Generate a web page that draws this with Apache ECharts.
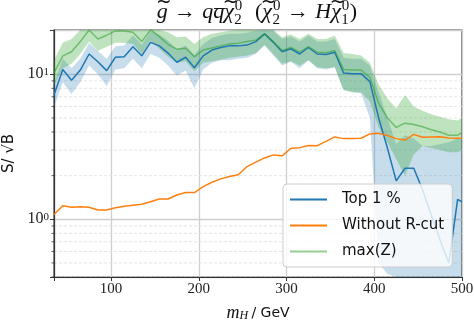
<!DOCTYPE html>
<html><head><meta charset="utf-8">
<script src="https://cdn.jsdelivr.net/npm/echarts@6/dist/echarts.min.js"></script>
<style>html,body{margin:0;padding:0;background:#fff}#c{width:474px;height:322px}</style>
</head><body><div id="c"></div>
<script>
// ---- data ----
const mH = [35,45,55,65,75,85,95,105,115,125,135,145,155,165,175,185,195,205,215,225,235,245,255,265,275,285,295,305,315,325,335,345,355,365,375,385,395,405,415,425,435,445,455,465,475,485,495,500];
const top1 = [7.2,10.8,9.1,10.7,13.8,12.2,10.6,13.1,13.2,15.5,13.4,16.6,15.7,14.0,12.1,13.1,11.1,13.4,14.7,15.3,15.7,15.7,15.9,16.8,19.0,16.6,14.3,15.0,13.8,15.3,13.8,13.7,14.2,10.2,10.1,10.1,8.9,5.0,3.1,1.84,2.25,2.25,1.6,1.07,0.72,0.50,1.37,1.32];
const top1Hi = [8.6,12.8,11.0,12.8,16.5,14.5,12.8,15.6,15.8,18.5,16.0,19.8,18.8,17.0,14.8,15.8,13.6,16.2,17.8,18.5,19.0,19.0,19.3,20.0,22.5,20.0,17.5,18.2,16.8,18.5,16.8,16.8,17.5,13.0,12.8,12.8,11.5,7.5,5.0,3.3,3.8,3.6,3.2,3.2,3.3,3.4,3.6,3.6];
const top1Lo = [5.9,8.8,7.3,8.8,11.5,10.0,8.3,10.8,11.0,12.8,11.0,13.8,13.0,11.5,9.8,10.6,8.0,10.8,12.0,12.5,12.5,12.8,13.0,13.8,15.8,13.5,11.5,12.2,11.0,12.5,11.0,10.8,11.2,7.8,7.6,7.4,5.0,0.5,0.42,0.3,0.3,0.3,0.3,0.3,0.3,0.3,0.3,0.3];
const noRcut = [1.08,1.24,1.21,1.22,1.21,1.16,1.16,1.20,1.23,1.25,1.27,1.32,1.38,1.38,1.47,1.53,1.53,1.68,1.80,1.90,1.97,2.03,2.31,2.48,2.65,2.78,2.74,3.09,3.12,3.23,3.22,3.45,3.70,3.60,3.60,3.62,3.88,3.92,3.78,3.60,3.52,3.85,3.68,3.70,3.71,3.64,3.62,3.62];
const maxZ = [10.2,13.4,14.3,16.8,20.2,17.5,18.6,19.9,19.9,19.5,16.8,20.3,18.2,16.1,14.9,15.1,13.2,14.7,15.2,15.7,16.2,16.4,16.8,17.2,19.0,16.8,14.6,15.3,14.2,15.5,14.2,14.1,14.6,10.8,10.7,10.7,9.5,6.3,5.0,4.3,4.6,4.5,4.35,4.15,4.0,3.8,3.8,3.95];
const maxZHi = [12.5,16.5,17.5,20.5,24,21,22,23.5,23.5,23,20.5,24,22,19.5,18.0,18.2,16.2,18.0,19.0,19.5,20.0,20.3,20.5,21.0,22.5,20.5,18.0,18.8,17.5,19.0,17.5,17.5,18.5,14.0,13.8,13.5,12.0,8.5,6.8,5.8,7.2,6.0,5.6,5.3,5.1,4.9,4.8,5.0];
const maxZLo = [8.4,11.0,11.8,13.8,16.8,14.5,15.5,16.5,16.5,16.2,13.8,17.0,15.0,13.2,12.0,12.3,10.5,12.0,12.3,12.6,13.0,13.2,13.5,14.0,16.0,13.8,11.8,12.3,11.5,12.5,11.2,11.0,11.2,7.8,7.5,7.5,6.5,4.3,3.4,2.6,2.0,2.8,3.2,3.1,3.0,2.9,2.9,3.0];
const xTickLabels = [100,200,300,400,500];
const yMinor = [0.4,0.5,0.6,0.7,0.8,0.9,2,3,4,5,6,7,8,9];
const seriesNames = ['Top 1 %','Without R-cut','max(Z)'];

const X_MIN = 35, X_MAX = 500, Y_MIN = 0.4, Y_MAX = 20.2;
const C_BLUE = '#1f77b4', C_ORANGE = '#ff7f0e', C_GREEN = '#2ca02c';

const pairs = arr => mH.map((x, i) => [x, arr[i]]);
const clampY = v => Math.min(Y_MAX, Math.max(Y_MIN, v));

function band(lo, hi, color, opacity, z) {
  return {
    type: 'custom', silent: true, z: z, data: [[X_MIN, 1]],
    renderItem(params, api) {
      const pts = [];
      for (let i = 0; i < mH.length; i++) pts.push(api.coord([mH[i], clampY(hi[i])]));
      for (let i = mH.length - 1; i >= 0; i--) pts.push(api.coord([mH[i], clampY(lo[i])]));
      return { type: 'polygon', shape: { points: pts }, style: { fill: color, opacity: opacity } };
    }
  };
}

const minorSeries = {
  type: 'custom', silent: true, z: 0, data: [[X_MIN, 1]],
  renderItem(params, api) {
    const children = [];
    yMinor.forEach(v => {
      const a = api.coord([X_MIN, v]), b = api.coord([X_MAX, v]);
      children.push({ type: 'line', shape: { x1: a[0], y1: a[1], x2: b[0], y2: b[1] },
        style: { stroke: '#dddddd', lineWidth: 0.8, lineDash: [3, 2] } });
      children.push({ type: 'line', shape: { x1: a[0] - 2.5, y1: a[1], x2: a[0], y2: a[1] },
        style: { stroke: '#333', lineWidth: 0.8 } });
    });
    return { type: 'group', children };
  }
};

// ---- title laid out as math text (g~ -> q qbar chi~^0_2 (chi~^0_2 -> H chi~^0_1)) ----
function buildTitle() {
  const F = 22, B = 20, CX = 257, SER = '"Liberation Serif"';
  const ctx = document.createElement('canvas').getContext('2d');
  const fnt = (it, s) => (it ? 'italic ' : '') + s + 'px ' + SER;
  const meas = (t, f) => { ctx.font = f; return ctx.measureText(t).width; };
  const segs = [
    { t: 'g', it: true, tilde: true }, { gap: 0.28 }, { t: '\u2192' }, { gap: 0.28 },
    { t: 'q', it: true }, { t: 'q', it: true, bar: true }, { t: '\u03c7', it: true, tilde: true }, { sup: '0', sub: '2' },
    { gap: 0.55 }, { t: '(' }, { t: '\u03c7', it: true, tilde: true }, { sup: '0', sub: '2' },
    { gap: 0.28 }, { t: '\u2192' }, { gap: 0.28 },
    { t: 'H', it: true }, { t: '\u03c7', it: true, tilde: true }, { sup: '0', sub: '1' }, { t: ')' }
  ];
  const S = Math.round(F * 0.68);
  let x = 0;
  const items = [];
  segs.forEach(s => {
    if (s.gap) { x += s.gap * F; return; }
    if (s.sup) {
      const w = Math.max(meas(s.sup, fnt(false, S)), meas(s.sub, fnt(false, S)));
      items.push({ text: s.sup, font: fnt(false, S), x: x + 1, y: B - 0.42 * F - 0.34 * S });
      items.push({ text: s.sub, font: fnt(false, S), x: x + 0.5, y: B + 0.22 * F - 0.34 * S });
      x += w + 1.5;
      return;
    }
    const f = fnt(s.it, F);
    const w = meas(s.t, f);
    items.push({ text: s.t, font: f, x: x, y: B - 0.34 * F });
    if (s.tilde) items.push({ text: '~', font: (0.85 * F) + 'px "DejaVu Sans"', x: x + w / 2 + 1.5, y: B - 0.78 * F, center: true });
    if (s.bar) items.push({ text: '\u00af', font: fnt(false, F), x: x + w / 2 + 1, y: B - 0.1 * F, center: true });
    x += w;
  });
  const x0 = CX - x / 2;
  return items.map(it => ({
    type: 'text', x: x0 + it.x, y: it.y, silent: true,
    style: { text: it.text, font: it.font, fill: '#111',
      align: it.center ? 'center' : 'left', textAlign: it.center ? 'center' : 'left',
      verticalAlign: 'middle', textVerticalAlign: 'middle' }
  }));
}

const chart = echarts.init(document.getElementById('c'), null, { renderer: 'canvas' });
chart.setOption({
  animation: false,
  backgroundColor: '#fff',
  graphic: buildTitle(),
  grid: { left: 54, right: 12, top: 30, bottom: 45, containLabel: false, outerBoundsMode: 'none',
    show: true, borderColor: '#333', borderWidth: 1.2, backgroundColor: 'transparent' },
  legend: {
    orient: 'vertical', left: 283, top: 184,
    data: [
      { name: seriesNames[0], itemStyle: { color: C_BLUE } },
      { name: seriesNames[1], itemStyle: { color: C_ORANGE } },
      { name: seriesNames[2], itemStyle: { color: C_GREEN, opacity: 0.5 } }
    ],
    icon: 'rect', itemWidth: 37, itemHeight: 2, itemGap: 11,
    padding: [8, 8, 8, 7],
    backgroundColor: 'rgba(255,255,255,0.8)', borderColor: '#cccccc', borderWidth: 1, borderRadius: 4,
    textStyle: { fontFamily: 'DejaVu Sans', fontSize: 15, color: '#111', padding: [0, 0, 0, 10] }
  },
  xAxis: {
    type: 'value', min: X_MIN, max: X_MAX,
    name: '{i|m}{s|H} {t|/ GeV}', nameLocation: 'middle', nameGap: 27,
    nameTextStyle: { rich: {
      i: { fontFamily: 'Liberation Serif', fontStyle: 'italic', fontSize: 18, color: '#111' },
      s: { fontFamily: 'Liberation Serif', fontStyle: 'italic', fontSize: 12, verticalAlign: 'bottom', color: '#111' },
      t: { fontFamily: 'DejaVu Sans', fontSize: 14, color: '#111' }
    } },
    axisLine: { show: true, lineStyle: { color: '#333', width: 1.2 } },
    axisTick: { show: true, length: 4, lineStyle: { color: '#333' } },
    axisLabel: { margin: 5, fontFamily: 'Liberation Serif', fontSize: 15, color: '#222',
      formatter: v => xTickLabels.indexOf(Math.round(v)) >= 0 && Math.abs(v - Math.round(v)) < 1e-6 ? String(Math.round(v)) : '' },
    splitLine: { show: true, lineStyle: { color: '#cfcfcf', width: 1.3 } }
  },
  yAxis: {
    type: 'log', logBase: 10, min: Y_MIN, max: Y_MAX,
    name: 'S/ \u221aB\u0305', nameLocation: 'middle', nameGap: 33, nameRotate: 90,
    nameTextStyle: { fontFamily: 'DejaVu Sans', fontSize: 15, color: '#111' },
    axisLine: { show: true, lineStyle: { color: '#333', width: 1.2 } },
    axisTick: { show: true, length: 4, lineStyle: { color: '#333' } },
    axisLabel: { margin: 5, fontFamily: 'Liberation Serif', fontSize: 16, color: '#222',
      formatter: v => {
        const l = Math.log10(v), r = Math.round(l);
        return Math.abs(l - r) < 1e-6 ? '10{sp|' + r + '}' : '';
      },
      rich: { sp: { fontFamily: 'Liberation Serif', fontSize: 11, verticalAlign: 'top', color: '#222' } }
    },
    splitLine: { show: true, lineStyle: { color: '#cfcfcf', width: 1.3 } }
  },
  series: [
    minorSeries,
    band(top1Lo, top1Hi, C_BLUE, 0.25, 1),
    band(maxZLo, maxZHi, C_GREEN, 0.3, 1),
    { name: seriesNames[0], type: 'line', data: pairs(top1), showSymbol: false, z: 3,
      lineStyle: { color: C_BLUE, width: 1.5 }, itemStyle: { color: C_BLUE } },
    { name: seriesNames[1], type: 'line', data: pairs(noRcut), showSymbol: false, z: 3,
      lineStyle: { color: C_ORANGE, width: 1.5 }, itemStyle: { color: C_ORANGE } },
    { name: seriesNames[2], type: 'line', data: pairs(maxZ), showSymbol: false, z: 3,
      lineStyle: { color: C_GREEN, width: 1.5, opacity: 0.55 }, itemStyle: { color: C_GREEN } }
  ]
});
</script></body></html>
